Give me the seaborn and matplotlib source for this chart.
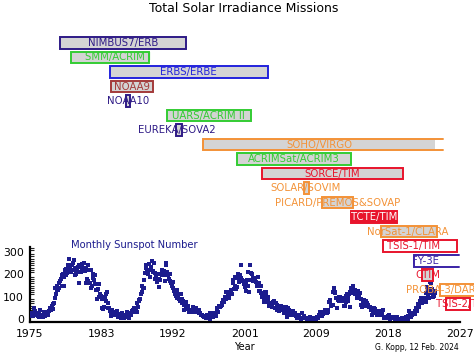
import numpy as np
import pandas as pd
import matplotlib
matplotlib.use("Agg")
import matplotlib.pyplot as plt
import seaborn as sns

# ---------------- data ----------------
missions = ["NIMBUS7/ERB", "SMM/ACRIM I", "ERBS/ERBE", "NOAA9", "NOAA10",
            "UARS/ACRIM II", "EUREKA/SOVA2", "SOHO/VIRGO", "ACRIMSat/ACRIM3",
            "SORCE/TIM", "SOLAR/SOVIM", "PICARD/PREMOS&SOVAP", "TCTE/TIM",
            "NorSat-1/CLARA", "TSIS-1/TIM", "FY-3E", "CTIM", "PROBA-3/DARA",
            "TSIS-2/TIM"]
start_year = [1978.72, 1979.98, 1984.69, 1984.89, 1986.66, 1991.58, 1992.67,
              1996.01, 2000.12, 2003.07, 2008.18, 2010.36, 2013.83, 2017.49,
              2017.77, 2021.51, 2022.41, 2024.62, 2025.35]
end_year = [1993.88, 1989.48, 2003.79, 1989.93, 1987.15, 2001.74, 1993.40,
            2024.02, 2013.83, 2020.18, 2008.82, 2014.14, 2019.39, 2024.22,
            2026.71, 2026.95, 2023.81, 2029.10, 2028.25]
label_year = [1986.30, 1985.70, 1994.24, 1987.41, 1986.90, 1996.66, 1992.83,
              2010.02, 2006.98, 2011.63, 2008.42, 2012.23, 2016.61, 2020.75,
              2021.48, 2022.81, 2023.11, 2025.10, 2027.30]
mission_color = ["#2e1a86", "#33cc33", "#2222dd", "#a33a3a", "#2e1a86",
                 "#33cc33", "#2e1a86", "#f39237", "#33cc33", "#e8142c",
                 "#f39237", "#f39237", "#e8142c", "#f39237", "#e8142c",
                 "#3a22a6", "#e8142c", "#f39237", "#e8142c"]
# fill style: 'gray' (archived data), 'solid' (filled in colour), 'white'
mission_fill = ["gray", "gray", "gray", "gray", "gray", "gray", "gray",
                "gray", "gray", "gray", "gray", "gray", "solid", "gray",
                "white", "white", "gray", "white", "white"]
# boxes drawn without a right-hand edge
open_right = ["SOHO/VIRGO", "FY-3E"]
soho_outline_end = 2024.95

# monthly sunspot number, Jan 1975 .. Jan 2024
ssn_1975_2024 = [
    18, 25, 20, 12, 14, 22, 50, 38, 18, 16, 26, 22,
    15, 8, 25, 40, 18, 20, 14, 10, 30, 22, 15, 28,
    25, 22, 16, 30, 35, 48, 42, 50, 60, 45, 68, 70,
    95, 140, 110, 150, 130, 128, 160, 140, 170, 180, 195, 150,
    200, 150, 190, 220, 195, 225, 205, 225, 240, 270, 230, 210,
    220, 240, 220, 250, 265, 230, 195, 200, 225, 210, 235, 240,
    160, 235, 210, 245, 220, 230, 230, 250, 215, 230, 160, 180,
    170, 240, 220, 160, 140, 220, 150, 185, 200, 175, 155, 195,
    130, 90, 130, 135, 100, 155, 110, 105, 90, 50, 45, 55,
    90, 100, 110, 80, 120, 70, 50, 50, 35, 30, 15, 40,
    25, 22, 20, 30, 25, 25, 38, 20, 10, 18, 22, 22,
    4, 25, 15, 18, 20, 5, 20, 10, 18, 30, 20, 10,
    6, 25, 18, 25, 36, 40, 30, 50, 42, 50, 45, 30,
    70, 55, 80, 85, 90, 110, 120, 150, 140, 140, 175, 205,
    230, 240, 210, 200, 215, 245, 190, 220, 235, 260, 215, 210,
    250, 180, 205, 190, 165, 200, 200, 180, 145, 175, 200, 220,
    195, 210, 215, 195, 170, 250, 240, 210, 195, 200, 180, 170,
    200, 160, 150, 140, 165, 125, 120, 110, 105, 95, 130, 100,
    90, 110, 80, 110, 90, 70, 80, 65, 40, 75, 75, 55,
    55, 60, 45, 30, 42, 30, 40, 30, 55, 55, 30, 38,
    40, 50, 30, 30, 30, 25, 40, 25, 20, 18, 20, 14,
    12, 8, 8, 4, 10, 20, 10, 18, 5, 2, 25, 18,
    10, 8, 18, 25, 22, 12, 15, 30, 50, 30, 60, 55,
    55, 60, 70, 65, 85, 85, 75, 100, 120, 90, 95, 110,
    105, 95, 110, 120, 130, 110, 175, 160, 135, 150, 190, 135,
    145, 185, 200, 165, 185, 195, 240, 185, 175, 170, 155, 155,
    145, 125, 155, 175, 150, 210, 120, 175, 240, 205, 200, 170,
    185, 185, 185, 170, 165, 160, 150, 190, 160, 125, 125, 150,
    115, 100, 110, 90, 75, 120, 120, 105, 75, 90, 100, 60,
    60, 70, 65, 55, 75, 70, 80, 70, 50, 70, 65, 40,
    50, 50, 35, 55, 40, 60, 55, 50, 40, 25, 30, 55,
    25, 10, 35, 50, 40, 25, 20, 25, 30, 17, 35, 25,
    25, 25, 15, 5, 20, 20, 15, 10, 5, 2, 4, 25,
    5, 3, 15, 6, 5, 5, 1, 1, 1, 6, 7, 3,
    2, 2, 1, 1, 5, 5, 6, 0, 7, 8, 5, 15,
    20, 30, 20, 15, 15, 24, 30, 30, 40, 36, 36, 25,
    40, 30, 75, 85, 75, 60, 65, 65, 120, 140, 120, 115,
    95, 50, 95, 85, 100, 80, 100, 95, 85, 80, 80, 60,
    95, 60, 75, 105, 110, 95, 80, 110, 55, 120, 140, 120,
    115, 150, 130, 130, 110, 110, 95, 110, 125, 110, 100, 115,
    90, 65, 55, 70, 85, 65, 65, 60, 80, 70, 65, 65,
    55, 55, 55, 40, 50, 20, 30, 50, 45, 35, 25, 20,
    30, 25, 18, 35, 20, 20, 30, 25, 40, 10, 5, 10,
    7, 10, 3, 9, 13, 16, 2, 9, 4, 4, 5, 3,
    8, 1, 10, 11, 10, 2, 1, 1, 1, 0, 1, 2,
    6, 0, 2, 5, 0, 6, 7, 8, 1, 15, 35, 22,
    10, 8, 18, 25, 21, 25, 35, 23, 50, 38, 35, 67,
    55, 60, 80, 85, 95, 70, 90, 75, 95, 95, 78, 115,
    145, 110, 125, 95, 135, 165, 160, 115, 135, 100, 105, 115,
    125,
]
x_ticks_labels = ["1975", "1983", "1992", "2001", "2009", "2018", "2027"]
y_ticks = [0, 100, 200, 300]

title = "Total Solar Irradiance Missions"
ssn_label = "Monthly Sunspot Number"
x_label = "Year"
credit = "G. Kopp, 12 Feb. 2024"

# ---------------- style ----------------
sns.set_style("white")
plt.rcParams["font.family"] = ["DejaVu Sans"]

W, H = 474, 355
fig = plt.figure(figsize=(W / 100, H / 100), dpi=100)
ax_left, ax_right = 29.5, 459.7
ax_bot, ax_top = 321.7, 30.0
ax = fig.add_axes([ax_left / W, 1 - ax_bot / H,
                   (ax_right - ax_left) / W, (ax_bot - ax_top) / H])
x0, x1 = 1975, 2027
ax.set_xlim(x0, x1)
ax.set_ylim(-12, 1294)

# sunspot data
months = np.arange(len(ssn_1975_2024))
df = pd.DataFrame({"year": 1975 + (months + 0.5) / 12.0,
                   "ssn": ssn_1975_2024})
sns.scatterplot(data=df, x="year", y="ssn", ax=ax, marker="s", s=5,
                color="#1c1c8e", linewidth=0, zorder=3, legend=False)

# missions
n = len(missions)
row_y = [66 + 65 * (n - 1 - i) for i in range(n)]
bar_h = 52
for i, name in enumerate(missions):
    c = mission_color[i]
    s, e = start_year[i], end_year[i]
    fill = mission_fill[i]
    fc = {"gray": "#d4d4d4", "solid": c, "white": "white"}[fill]
    if name in open_right:
        ax.barh(row_y[i], e - s, left=s, height=bar_h, color=fc,
                edgecolor="none", zorder=4, clip_on=False)
        xe = soho_outline_end if name == "SOHO/VIRGO" else e
        yb, yt = row_y[i] - bar_h / 2, row_y[i] + bar_h / 2
        ax.plot([xe, s, s, xe], [yt, yt, yb, yb], color=c, lw=1.4,
                zorder=5, clip_on=False, solid_joinstyle="miter")
    else:
        ax.barh(row_y[i], e - s, left=s, height=bar_h, color=fc,
                edgecolor=c, linewidth=1.4, zorder=4, clip_on=False)
    tc = "white" if fill == "solid" else c
    ax.text(label_year[i], row_y[i], name, color=tc, fontsize=7.3,
            ha="center", va="center", zorder=6, clip_on=False)

# axes styling
for sp in ["top", "right"]:
    ax.spines[sp].set_visible(False)
ax.spines["left"].set_bounds(-12, 322)
ax.spines["left"].set_linewidth(1.6)
ax.spines["bottom"].set_linewidth(1.6)
ax.spines["left"].set_color("black")
ax.spines["bottom"].set_color("black")

xt = np.linspace(x0, x1, len(x_ticks_labels))
ax.set_xticks(xt)
ax.set_xticklabels(x_ticks_labels, fontsize=7.8)
ax.set_yticks(y_ticks)
ax.set_yticklabels([str(v) for v in y_ticks], fontsize=7.8)
ax.set_yticks(np.arange(0, 330, 10), minor=True)
ax.tick_params(axis="x", direction="in", length=4, width=1.2, pad=5,
               colors="black")
ax.tick_params(axis="y", which="major", direction="in", length=6,
               width=1.2, pad=4, colors="black")
ax.tick_params(axis="y", which="minor", direction="in", length=3,
               width=0.8, left=True)
ax.set_xlabel("")
ax.set_ylabel("")
ax.grid(False)

ax.text(1980.0, 331, ssn_label, color="#1c1c8e", fontsize=7.2,
        ha="left", va="center", zorder=6)

fig.text(243.3 / W, 1 - 8 / H, title, fontsize=9, ha="center", va="center",
         color="black")
fig.text(244 / W, 1 - 347 / H, x_label, fontsize=7, ha="center",
         va="center", color="black")
fig.text(459 / W, 1 - 348 / H, credit, fontsize=5.5, ha="right",
         va="center", color="black")

fig.savefig("out.png", dpi=100)
